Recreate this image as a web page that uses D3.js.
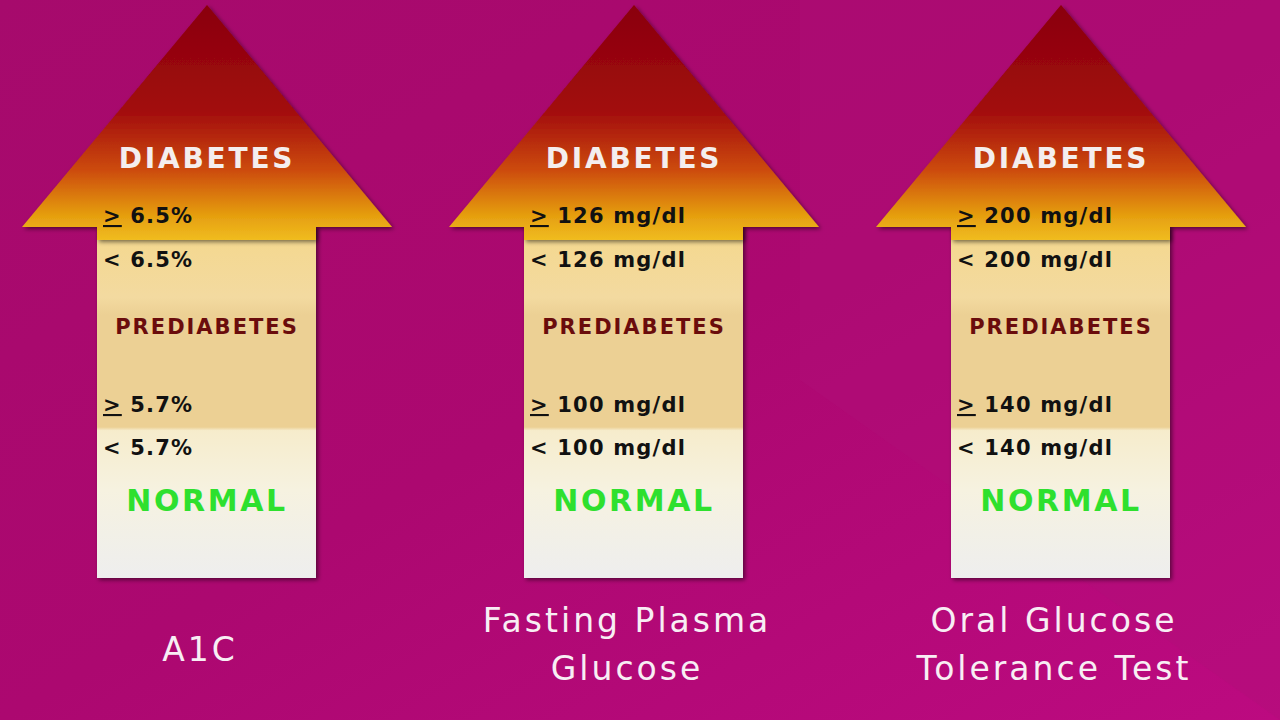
<!DOCTYPE html>
<html><head><meta charset="utf-8">
<script src="https://cdn.jsdelivr.net/npm/d3@7"></script>
<style>body{margin:0;overflow:hidden}</style>
</head><body><svg id="chart" width="1280" height="720"></svg>
<script>
const tests = ["A1C", "Fasting Plasma\nGlucose", "Oral Glucose\nTolerance Test"];
const diabetesMin = ["6.5%", "126 mg/dl", "200 mg/dl"];
const prediabetesMin = ["5.7%", "100 mg/dl", "140 mg/dl"];
const zones = ["DIABETES", "PREDIABETES", "NORMAL"];

const svg = d3.select("#chart");
const defs = svg.append("defs");

const bg = defs.append("linearGradient").attr("id", "bg").attr("x1", 0).attr("y1", 0).attr("x2", 1).attr("y2", 1);
bg.append("stop").attr("offset", 0).attr("stop-color", "#a60a6c");
bg.append("stop").attr("offset", 0.5).attr("stop-color", "#ac0870");
bg.append("stop").attr("offset", 1).attr("stop-color", "#bc0a80");
svg.append("rect").attr("width", 1280).attr("height", 720).attr("fill", "url(#bg)");
svg.append("path").attr("d", "M800,0 L1280,0 L1280,720 L800,380 Z").attr("fill", "#b01078").attr("opacity", 0.35);

const head = defs.append("linearGradient").attr("id", "head").attr("x1", 0).attr("x2", 0).attr("gradientUnits", "userSpaceOnUse").attr("y1", 5).attr("y2", 240);
[[0, "#8a0008"], [0.45, "#a20c0c"], [0.7, "#cc4a10"], [0.9, "#e6a010"], [1, "#f0bc20"]]
  .forEach(([o, c]) => head.append("stop").attr("offset", o).attr("stop-color", c));

const shaft = defs.append("linearGradient").attr("id", "shaft").attr("gradientUnits", "userSpaceOnUse").attr("x1", 0).attr("x2", 0).attr("y1", 227).attr("y2", 578);
[[0, "#f0c040"], [0.04, "#f4d890"], [0.2, "#f3daa0"], [0.25, "#ecd094"], [0.57, "#ecd094"], [0.58, "#f6eccc"], [0.75, "#f6f2e0"], [1, "#eeeeee"]]
  .forEach(([o, c]) => shaft.append("stop").attr("offset", o).attr("stop-color", c));

const shadow = defs.append("filter").attr("id", "sh").attr("x", -0.1).attr("y", -0.1).attr("width", 1.2).attr("height", 1.2);
shadow.append("feDropShadow").attr("dx", 2).attr("dy", 2).attr("stdDeviation", 2).attr("flood-opacity", 0.5);

const x = d3.scalePoint().domain(d3.range(tests.length)).range([207, 1061]);

const g = svg.selectAll("g.arrow").data(tests).join("g").attr("class", "arrow")
  .attr("transform", (d, i) => `translate(${x(i)},0)`);

g.append("path").attr("filter", "url(#sh)").attr("fill", "url(#shaft)")
  .attr("d", "M-110,226 L109,226 L109,578 L-110,578 Z");
g.append("path").attr("filter", "url(#sh)").attr("fill", "url(#head)")
  .attr("d", `M0,5 L185,227 L109,227 L109,240 L-110,240 L-110,227 L-185,227 Z`);

const font = "DejaVu Sans, Arial, sans-serif";
g.append("text").attr("x", 0).attr("y", 160).attr("text-anchor", "middle").attr("dominant-baseline", "middle")
  .attr("font-family", font).attr("font-weight", "bold").attr("font-size", 28).attr("letter-spacing", 2.8)
  .attr("fill", "#f4eeee").text(zones[0]);
g.append("text").attr("x", 0).attr("y", 328).attr("text-anchor", "middle").attr("dominant-baseline", "middle")
  .attr("font-family", font).attr("font-weight", "bold").attr("font-size", 21).attr("letter-spacing", 2)
  .attr("fill", "#6a0c0c").text(zones[1]);
g.append("text").attr("x", 0).attr("y", 502).attr("text-anchor", "middle").attr("dominant-baseline", "middle")
  .attr("font-family", font).attr("font-weight", "bold").attr("font-size", 30).attr("letter-spacing", 2.6)
  .attr("fill", "#2ee02e").text(zones[2]);

const rows = [
  {y: 217, ge: true, v: diabetesMin},
  {y: 261, ge: false, v: diabetesMin},
  {y: 406, ge: true, v: prediabetesMin},
  {y: 449, ge: false, v: prediabetesMin}
];
rows.forEach(r => {
  const t = g.append("text").attr("x", -104).attr("y", r.y).attr("dominant-baseline", "middle")
    .attr("font-family", font).attr("font-weight", "bold").attr("font-size", 21).attr("letter-spacing", 1.2)
    .attr("fill", "#111");
  t.append("tspan").attr("text-decoration", r.ge ? "underline" : null).text(r.ge ? ">" : "<");
  t.append("tspan").text((d, i) => " " + r.v[i]);
});

g.each(function(d, i) {
  const lines = d.split("\n");
  const sel = d3.select(this);
  const y0 = lines.length === 1 ? 651 : 622;
  lines.forEach((l, k) => sel.append("text").attr("x", -7).attr("y", y0 + k * 48)
    .attr("text-anchor", "middle").attr("dominant-baseline", "middle")
    .attr("font-family", font).attr("font-size", 33).attr("letter-spacing", 3)
    .attr("fill", "#f8eef4").text(l));
});
</script></body></html>
